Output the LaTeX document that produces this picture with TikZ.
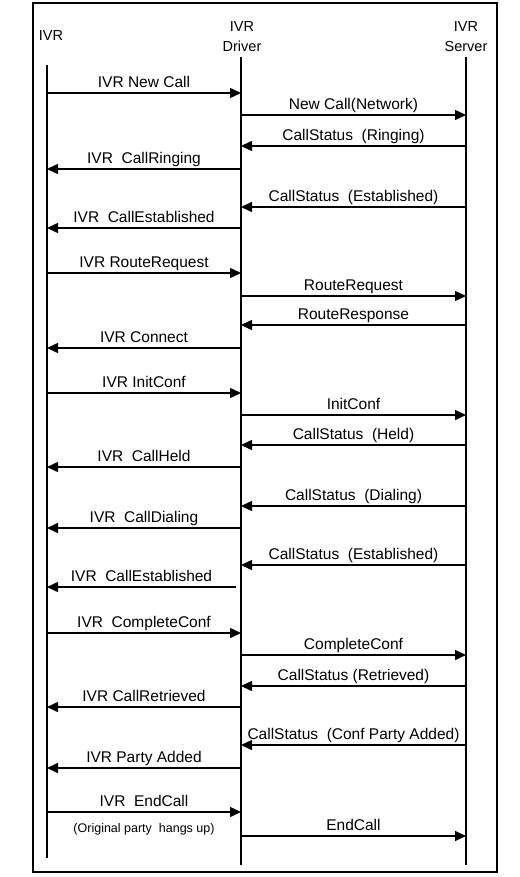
\documentclass[tikz,border=0pt]{standalone}
\usepackage{fontspec}
\setmainfont{Liberation Sans}
\usetikzlibrary{arrows.meta}
\newcommand\sendmsg[5]{\draw[msg] (#1T |- 0,#3) -- node[lbl] (#5) {#4} (#2T |- 0,#3);}
\begin{document}
\begin{tikzpicture}[x=1pt,y=-1pt,
  frame/.style={line width=2pt},
  life/.style={line width=2pt},
  msg/.style={line width=1.5pt,-{Triangle[length=11pt,width=10pt]}},
  lbl/.style={above,font=\fontsize{15.5}{18}\selectfont,inner ysep=1.5pt,text depth=3.5pt,text height=11pt},
  head/.style={font=\fontsize{14.5}{20}\selectfont,align=center,inner sep=0pt,anchor=base},
  note/.style={font=\fontsize{12.5}{15}\selectfont,inner sep=0pt,anchor=base}]
\useasboundingbox (0,0) rectangle (519,877);
\draw[frame] (33,3) rectangle (497,872);
% headers
\node[head] (hIvr) at (51,41) {IVR};
\node[head] (hDrv) at (242,52) {IVR\\Driver};
\node[head] (hSrv) at (466,52) {IVR\\Server};
% lifelines
\coordinate (ivrT) at (47,65);  \coordinate (ivrB) at (47,858);
\coordinate (drvT) at (241,57); \coordinate (drvB) at (241,865);
\coordinate (srvT) at (466,57); \coordinate (srvB) at (466,865);
\coordinate (drvsT) at (236,57);
\draw[life] (ivrT) -- (ivrB);
\draw[life] (drvT) -- (drvB);
\draw[life] (srvT) -- (srvB);
% messages
\sendmsg{ivr}{drv}{93}{IVR New Call}{m1}
\sendmsg{drv}{srv}{115}{New Call(Network)}{m2}
\sendmsg{srv}{drv}{146}{CallStatus\ \ (Ringing)}{m3}
\sendmsg{drv}{ivr}{169}{IVR\ \ CallRinging}{m4}
\sendmsg{srv}{drv}{207}{CallStatus\ \ (Established)}{m5}
\sendmsg{drv}{ivr}{228}{IVR\ \ CallEstablished}{m6}
\sendmsg{ivr}{drv}{273}{IVR RouteRequest}{m7}
\sendmsg{drv}{srv}{296}{RouteRequest}{m8}
\sendmsg{srv}{drv}{325}{RouteResponse}{m9}
\sendmsg{drv}{ivr}{348}{IVR Connect}{m10}
\sendmsg{ivr}{drv}{393}{IVR InitConf}{m11}
\sendmsg{drv}{srv}{415}{InitConf}{m12}
\sendmsg{srv}{drv}{445}{CallStatus\ \ (Held)}{m13}
\sendmsg{drv}{ivr}{467}{IVR\ \ CallHeld}{m14}
\sendmsg{srv}{drv}{506}{CallStatus\ \ (Dialing)}{m15}
\sendmsg{drv}{ivr}{528}{IVR\ \ CallDialing}{m16}
\sendmsg{srv}{drv}{565}{CallStatus\ \ (Established)}{m17}
\sendmsg{drvs}{ivr}{587}{IVR\ \ CallEstablished}{m18}
\sendmsg{ivr}{drv}{633}{IVR\ \ CompleteConf}{m19}
\sendmsg{drv}{srv}{655}{CompleteConf}{m20}
\sendmsg{srv}{drv}{686}{CallStatus (Retrieved)}{m21}
\sendmsg{drv}{ivr}{707}{IVR CallRetrieved}{m22}
\sendmsg{srv}{drv}{745}{CallStatus\ \ (Conf Party Added)}{m23}
\sendmsg{drv}{ivr}{768}{IVR Party Added}{m24}
\sendmsg{ivr}{drv}{812}{IVR\ \ EndCall}{m25}
\node[note] (n25) at (144,832) {(Original party\ \ hangs up)};
\sendmsg{drv}{srv}{836}{EndCall}{m26}
\end{tikzpicture}
\end{document}
